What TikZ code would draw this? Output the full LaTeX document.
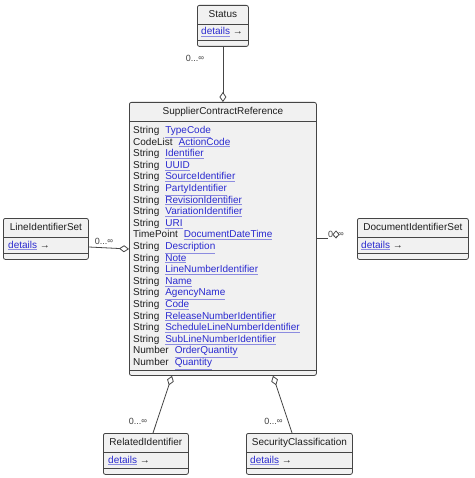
\documentclass[tikz,border=0pt]{standalone}
\usepackage{fontspec}
\setmainfont{Liberation Sans}
\usetikzlibrary{arrows.meta,calc}
\definecolor{boxfill}{HTML}{F1F1F1}
\definecolor{boxline}{HTML}{454545}
\definecolor{linkc}{HTML}{2A2AD0}
\definecolor{ulinkc}{HTML}{8C8CE0}
\definecolor{txtc}{HTML}{1E1E1E}
\newcommand{\lk}[1]{{\color{ulinkc}\underline{\textcolor{linkc}{#1}}}}
\newcommand{\infsym}{\raisebox{0.6pt}{\fontsize{8}{8}\selectfont ∞}}
\tikzset{
  clsbox/.style={draw=boxline, fill=boxfill, line width=0.8pt, rounded corners=2pt, inner sep=0pt, anchor=north west},
  sepline/.style={draw=boxline, line width=0.8pt},
  ttl/.style={font=\fontsize{10}{12}\selectfont, text=txtc, inner sep=0pt, text height=7.5pt, text depth=2pt},
  det/.style={font=\fontsize{10}{12}\selectfont, text=txtc, inner sep=0pt, anchor=west, text height=7.5pt, text depth=2.5pt},
  attr/.style={font=\fontsize{10}{12}\selectfont, text=txtc, inner sep=0pt, anchor=west, text height=7.5pt, text depth=2.5pt},
  mult/.style={font=\fontsize{9}{10}\selectfont, inner sep=0pt, text=black!75},
  agg/.style={draw=boxline, line width=0.8pt, -{Diamond[open, length=10pt, width=7pt]}},
  conn/.style={draw=boxline, line width=0.8pt}
}
\begin{document}
\begin{tikzpicture}[x=1pt, y=-1pt]
\useasboundingbox (0,0) rectangle (474,478);
\fill[white] (0,0) rectangle (474,478);

% ---- main class ----
\node[clsbox, minimum width=187pt, minimum height=273pt] (main) at (129,102) {};
\node[ttl] (mainT) at ($(main.north)+(0,10)$) {SupplierContractReference};
\draw[sepline] ($(main.north west)+(0,19)$) -- ($(main.north east)+(0,19)$);
\draw[sepline] ($(main.south west)+(0,-5)$) -- ($(main.south east)+(0,-5)$);
\foreach \t/\n [count=\i] in {String/TypeCode, CodeList/ActionCode, String/Identifier, String/UUID,
  String/SourceIdentifier, String/PartyIdentifier, String/RevisionIdentifier, String/VariationIdentifier,
  String/URI, TimePoint/DocumentDateTime, String/Description, String/Note, String/LineNumberIdentifier,
  String/Name, String/AgencyName, String/Code, String/ReleaseNumberIdentifier,
  String/ScheduleLineNumberIdentifier, String/SubLineNumberIdentifier, Number/OrderQuantity, Number/Quantity}
  { \node[attr] (a\i) at (133, {119.4+\i*11.6}) {\t\hspace{6pt}\lk{\n}}; }

% ---- Status ----
\node[clsbox, minimum width=51pt, minimum height=41pt] (st) at (197,5) {};
\node[ttl] (stT) at ($(st.north)+(0,9.5)$) {Status};
\draw[sepline] ($(st.north west)+(0,19)$) -- ($(st.north east)+(0,19)$);
\draw[sepline] ($(st.north west)+(0,35)$) -- ($(st.north east)+(0,35)$);
\node[det] (stD) at ($(st.north west)+(4,27.5)$) {\lk{details} →};

% ---- LineIdentifierSet ----
\node[clsbox, minimum width=85pt, minimum height=41pt] (lis) at (3,218) {};
\node[ttl] (lisT) at ($(lis.north)+(0,9.5)$) {LineIdentifierSet};
\draw[sepline] ($(lis.north west)+(0,19)$) -- ($(lis.north east)+(0,19)$);
\draw[sepline] ($(lis.north west)+(0,35)$) -- ($(lis.north east)+(0,35)$);
\node[det] (lisD) at ($(lis.north west)+(5,27.5)$) {\lk{details} →};

% ---- DocumentIdentifierSet ----
\node[clsbox, minimum width=111pt, minimum height=41pt] (dis) at (357,218) {};
\node[ttl] (disT) at ($(dis.north)+(0,9.5)$) {DocumentIdentifierSet};
\draw[sepline] ($(dis.north west)+(0,19)$) -- ($(dis.north east)+(0,19)$);
\draw[sepline] ($(dis.north west)+(0,35)$) -- ($(dis.north east)+(0,35)$);
\node[det] (disD) at ($(dis.north west)+(4,27.5)$) {\lk{details} →};

% ---- RelatedIdentifier ----
\node[clsbox, minimum width=85pt, minimum height=41pt] (rel) at (103,433) {};
\node[ttl] (relT) at ($(rel.north)+(0,9.5)$) {RelatedIdentifier};
\draw[sepline] ($(rel.north west)+(0,19)$) -- ($(rel.north east)+(0,19)$);
\draw[sepline] ($(rel.north west)+(0,35)$) -- ($(rel.north east)+(0,35)$);
\node[det] (relD) at ($(rel.north west)+(5,27.5)$) {\lk{details} →};

% ---- SecurityClassification ----
\node[clsbox, minimum width=106pt, minimum height=41pt] (sec) at (246,433) {};
\node[ttl] (secT) at ($(sec.north)+(0,9.5)$) {SecurityClassification};
\draw[sepline] ($(sec.north west)+(0,19)$) -- ($(sec.north east)+(0,19)$);
\draw[sepline] ($(sec.north west)+(0,35)$) -- ($(sec.north east)+(0,35)$);
\node[det] (secD) at ($(sec.north west)+(4,27.5)$) {\lk{details} →};

% ---- connectors ----
\draw[agg] (st.south) -- (st.south |- main.north);
\node[mult] (m1) at (195,58) {0...\infsym};

\draw[agg] ($(lis.north east)+(0,29)$) -- ($(main.north west)+(0,147)$);
\node[mult] (m2) at (104,241) {0...\infsym};

\coordinate (rend) at ($(main.north east)+(11,136)$);
\draw[conn] ($(main.north east)+(0,136)$) -- (rend);
\node[mult, anchor=west] (m3) at (328,234) {0..\infsym};
\draw[conn, line width=0.7pt] (333,234.5) -- (336,231) -- (339,234.5) -- (336,238) -- cycle;

\draw[agg] ($(rel.north west)+(50,0)$) -- ($(main.south west)+(43,0)$);
\node[mult] (m4) at (138,421) {0...\infsym};

\draw[agg] ($(sec.north west)+(46,0)$) -- ($(main.south west)+(144,0)$);
\node[mult] (m5) at (273.5,421) {0...\infsym};
\end{tikzpicture}
\end{document}
